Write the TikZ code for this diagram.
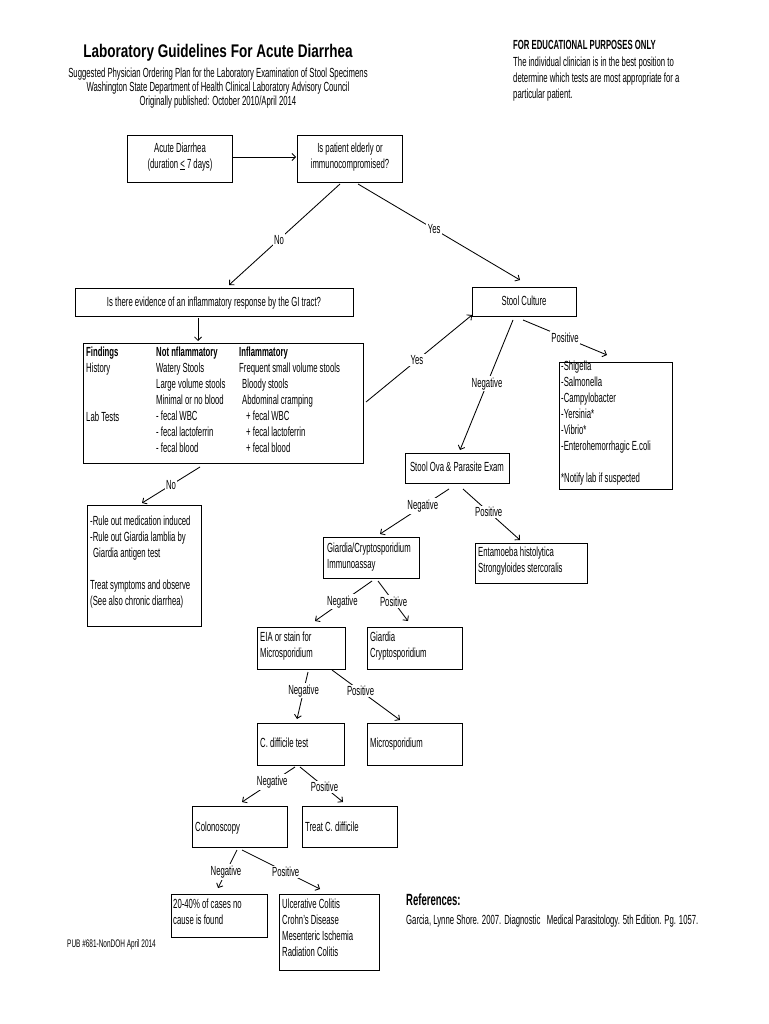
\documentclass[tikz,border=0pt]{standalone}
\usepackage{fontspec}
\setmainfont[FakeStretch=0.587]{Liberation Sans}
\newfontfamily\titlefont[FakeStretch=0.74]{Liberation Sans}
\usetikzlibrary{arrows.meta}
\newcommand\bodyfont{\fontsize{13.2}{16}\selectfont}
\newcommand\subfont{\fontsize{13.2}{14}\selectfont}
\newcommand\reffont{\fontsize{16.2}{18}\selectfont}
\newcommand\pubfont{\fontsize{11}{12}\selectfont}
\begin{document}
\begin{tikzpicture}[x=1pt,y=-1pt,
  box/.style={draw, line width=0.9pt, anchor=north west, inner sep=0pt},
  tl/.style={anchor=north west, align=left, inner sep=0pt, yshift=6.5pt, font=\bodyfont, execute at begin node=\strut},
  tc/.style={tl, anchor=north, align=center},
  tcs/.style={anchor=north, align=center, inner sep=0pt, yshift=5.1pt, font=\subfont, execute at begin node=\strut},
  conn/.style={line width=0.85pt, -{Straight Barb[length=3.5pt,width=7pt]}},
  lab/.style={fill=white, inner sep=1.5pt, font=\bodyfont}]
\useasboundingbox[fill=white] (0,0) rectangle (768,1024);

% ---------- header ----------
\node[font={\fontsize{18.3}{22}\titlefont\bfseries}, inner sep=0pt, anchor=base] (title) at (218,57.5) {Laboratory Guidelines For Acute Diarrhea};
\node[tcs] (subtitle) at (218,73) {Suggested Physician Ordering Plan for the Laboratory Examination of Stool Specimens\\Washington State Department of Health Clinical Laboratory Advisory Council\\Originally published: October 2010/April 2014};
\node[font=\bodyfont\bfseries, inner sep=0pt, anchor=base west] (edu) at (513,49.7) {FOR EDUCATIONAL PURPOSES ONLY};
\node[tl] (edutext) at (513,63) {The individual clinician is in the best position to\\determine which tests are most appropriate for a\\particular patient.};

% ---------- boxes ----------
\node[box, minimum width=105pt, minimum height=47pt] (acute) at (127,135) {};
\node[box, minimum width=105pt, minimum height=47pt] (elderly) at (297,135) {};
\node[box, minimum width=278pt, minimum height=28pt] (inflam) at (75,288) {};
\node[box, minimum width=104pt, minimum height=29pt] (culture) at (472,287) {};
\node[box, minimum width=280pt, minimum height=120pt] (findings) at (83,343) {};
\node[box, minimum width=113pt, minimum height=127pt] (pathogens) at (559,362) {};
\node[box, minimum width=104pt, minimum height=30pt] (ova) at (405,453) {};
\node[box, minimum width=114pt, minimum height=121pt] (ruleout) at (87,505) {};
\node[box, minimum width=96pt, minimum height=41pt] (giardia) at (323,537) {};
\node[box, minimum width=112pt, minimum height=40pt] (entamoeba) at (475,543) {};
\node[box, minimum width=88pt, minimum height=42pt] (eia) at (257,627) {};
\node[box, minimum width=95pt, minimum height=42pt] (giardiapos) at (367,627) {};
\node[box, minimum width=87pt, minimum height=42pt] (cdiff) at (257,723) {};
\node[box, minimum width=95pt, minimum height=42pt] (micro) at (367,723) {};
\node[box, minimum width=95pt, minimum height=41pt] (colon) at (192,806) {};
\node[box, minimum width=95pt, minimum height=41pt] (treat) at (302,806) {};
\node[box, minimum width=96pt, minimum height=43pt] (cases) at (171,894) {};
\node[box, minimum width=100pt, minimum height=76pt] (ulcer) at (279,894) {};

% ---------- box texts ----------
\node[tc] (acute-t) at (180,149) {Acute Diarrhea\\(duration \underline{<} 7 days)};
\node[tc] (elderly-t) at (350,149) {Is patient elderly or\\immunocompromised?};
\node[tc] (inflam-t) at (214,302) {Is there evidence of an inflammatory response by the GI tract?};
\node[tc] (culture-t) at (524,301) {Stool Culture};
\node[tl] (f-c1a) at (86,353) {\textbf{Findings}\\History};
\node[tl] (f-c1b) at (86,417) {Lab Tests};
\node[tl] (f-c2) at (156,353) {\textbf{Not nflammatory}\\Watery Stools\\Large volume stools\\Minimal or no blood\\- fecal WBC\\- fecal lactoferrin\\- fecal blood};
\node[tl] (f-c3) at (239,353) {\textbf{Inflammatory}\\Frequent small volume stools\\\hspace*{3pt}Bloody stools\\\hspace*{3pt}Abdominal cramping\\\hspace*{7pt}+ fecal WBC\\\hspace*{7pt}+ fecal lactoferrin\\\hspace*{7pt}+ fecal blood};
\node[tl] (pathogens-t) at (561,367) {-Shigella\\-Salmonella\\-Campylobacter\\-Yersinia*\\-Vibrio*\\-Enterohemorrhagic E.coli\\\strut\\*Notify lab if suspected};
\node[tc] (ova-t) at (457,467) {Stool Ova \& Parasite Exam};
\node[tl] (ruleout-t) at (90,522) {-Rule out medication induced\\-Rule out Giardia lamblia by\\\hspace*{3pt}Giardia antigen test\\\strut\\Treat symptoms and observe\\(See also chronic diarrhea)};
\node[tl] (giardia-t) at (327,549) {Giardia/Cryptosporidium\\Immunoassay};
\node[tl] (entamoeba-t) at (478,553) {Entamoeba histolytica\\Strongyloides stercoralis};
\node[tl] (eia-t) at (260,638) {EIA or stain for\\Microsporidium};
\node[tl] (giardiapos-t) at (370,638) {Giardia\\Cryptosporidium};
\node[tl] (cdiff-t) at (260,743) {C. difficile test};
\node[tl] (micro-t) at (370,743) {Microsporidium};
\node[tl] (colon-t) at (195,827) {Colonoscopy};
\node[tl] (treat-t) at (305,827) {Treat C. difficile};
\node[tl] (cases-t) at (173,905) {20-40\% of cases no\\cause is found};
\node[tl] (ulcer-t) at (282,905) {Ulcerative Colitis\\Crohn's Disease\\Mesenteric Ischemia\\Radiation Colitis};

% ---------- footer ----------
\node[font=\reffont\bfseries, inner sep=0pt, anchor=base west] (refs) at (406,905.8) {References:};
\node[font=\bodyfont, inner sep=0pt, anchor=base west] (garcia) at (406,924.7) {Garcia, Lynne Shore. 2007. Diagnostic\ \ \ Medical Parasitology. 5th Edition. Pg. 1057.};
\node[font=\pubfont, inner sep=0pt, anchor=base west] (pub) at (67,947.9) {PUB \#681-NonDOH April 2014};

% ---------- connector ends ----------
\coordinate (a1) at (233,157);  \coordinate (b1) at (296,157);
\coordinate (a2) at (340,184);  \coordinate (b2) at (229,285);
\coordinate (a3) at (358,184);  \coordinate (b3) at (520,280);
\coordinate (a4) at (198,318);  \coordinate (b4) at (198,341);
\coordinate (a5) at (366,402);  \coordinate (b5) at (472,315);
\coordinate (a6) at (513,320);  \coordinate (b6) at (460,450);
\coordinate (a7) at (523,320);  \coordinate (b7) at (607,355);
\coordinate (a8) at (200,467);  \coordinate (b8) at (142,503);
\coordinate (a9) at (449,489);  \coordinate (b9) at (380,534);
\coordinate (a10) at (463,489); \coordinate (b10) at (520,540);
\coordinate (a11) at (372,581); \coordinate (b11) at (315,621);
\coordinate (a12) at (378,581); \coordinate (b12) at (408,621);
\coordinate (a13) at (308,672); \coordinate (b13) at (297,719);
\coordinate (a14) at (332,670); \coordinate (b14) at (400,720);
\coordinate (a15) at (295,767); \coordinate (b15) at (242,802);
\coordinate (a16) at (300,767); \coordinate (b16) at (343,802);
\coordinate (a17) at (237,850); \coordinate (b17) at (218,888);
\coordinate (a18) at (242,850); \coordinate (b18) at (320,889);

% ---------- connectors ----------
\draw[conn] (a1) -- (b1);
\draw[conn] (a2) -- node[lab,pos=0.55] (l2) {No} (b2);
\draw[conn] (a3) -- node[lab,pos=0.47] (l3) {Yes} (b3);
\draw[conn] (a4) -- (b4);
\draw[conn] (a5) -- node[lab,pos=0.48] (l5) {Yes} (b5);
\draw[conn] (a6) -- node[lab,pos=0.49] (l6) {Negative} (b6);
\draw[conn] (a7) -- node[lab,pos=0.5] (l7) {Positive} (b7);
\draw[conn] (a8) -- node[lab,pos=0.5] (l8) {No} (b8);
\draw[conn] (a9) -- node[lab,pos=0.38] (l9) {Negative} (b9);
\draw[conn] (a10) -- node[lab,pos=0.45] (l10) {Positive} (b10);
\draw[conn] (a11) -- node[lab,pos=0.52] (l11) {Negative} (b11);
\draw[conn] (a12) -- node[lab,pos=0.52] (l12) {Positive} (b12);
\draw[conn] (a13) -- node[lab,pos=0.4] (l13) {Negative} (b13);
\draw[conn] (a14) -- node[lab,pos=0.42] (l14) {Positive} (b14);
\draw[conn] (a15) -- node[lab,pos=0.43] (l15) {Negative} (b15);
\draw[conn] (a16) -- node[lab,pos=0.57] (l16) {Positive} (b16);
\draw[conn] (a17) -- node[lab,pos=0.58] (l17) {Negative} (b17);
\draw[conn] (a18) -- node[lab,pos=0.56] (l18) {Positive} (b18);
\end{tikzpicture}
\end{document}
